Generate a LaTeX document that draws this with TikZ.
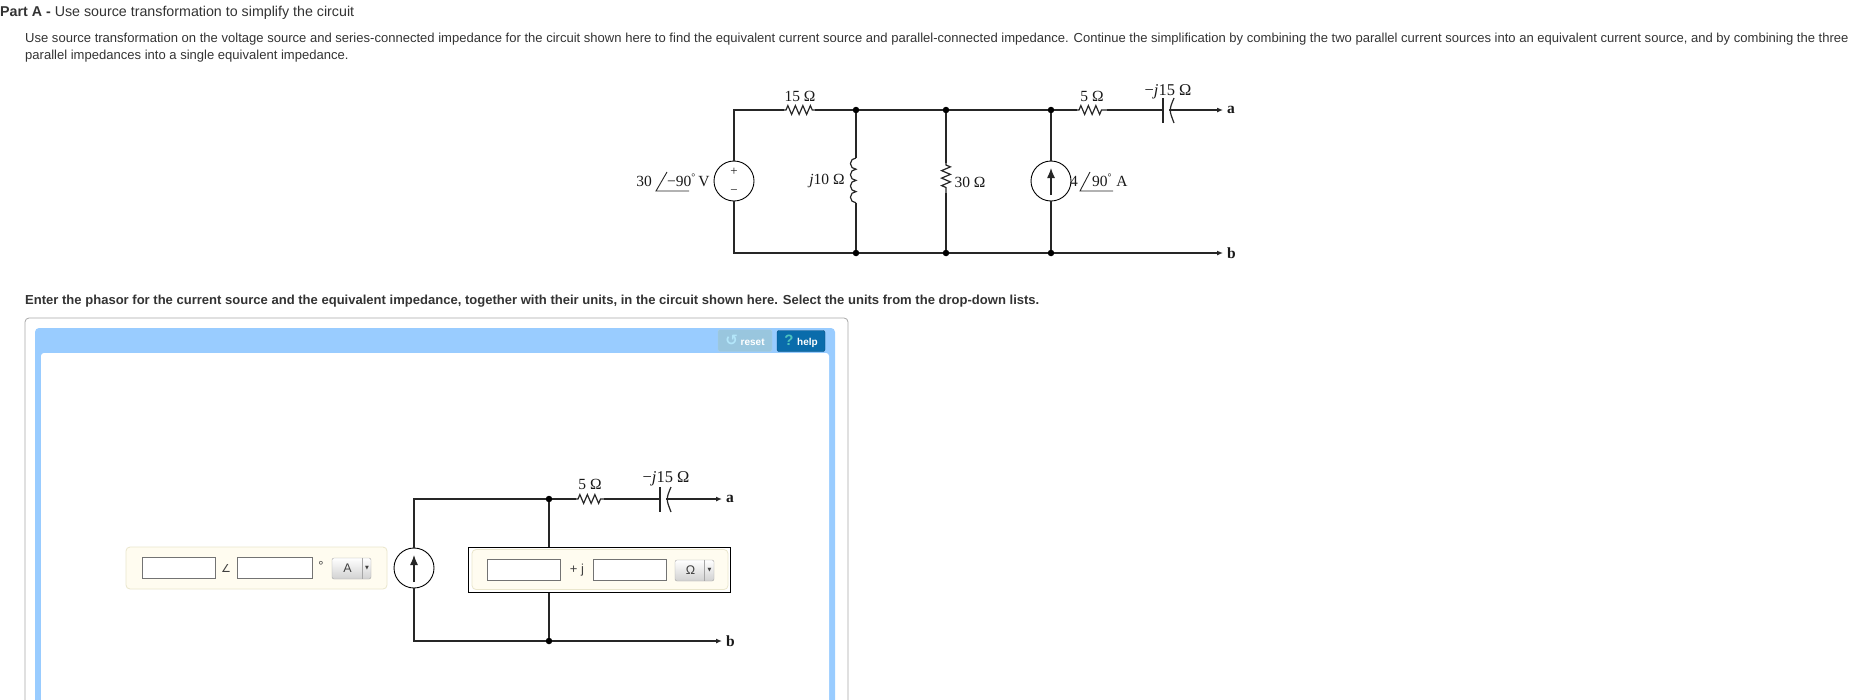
\documentclass[tikz,border=0pt]{standalone}
\usepackage{fontspec}
\setmainfont{Liberation Sans}
\newfontfamily\cktfont{Liberation Serif}
\newfontfamily\symfont{DejaVu Sans}
\usetikzlibrary{calc,arrows.meta,decorations.pathmorphing}
\definecolor{txtgray}{HTML}{333333}
\definecolor{panelblue}{HTML}{99CCFF}
\definecolor{creamfill}{HTML}{FFFCF0}
\definecolor{creamedge}{HTML}{EAE6CC}
\definecolor{resetblue}{HTML}{99C6DE}
\definecolor{helpblue}{HTML}{0A6CAB}
\tikzset{
  wire/.style={line width=1.2pt,black!85},
  lead/.style={wire,shorten >=4pt,-{Latex[length=6pt,width=5pt]}},
  dot/.style={circle,fill=black,inner sep=0pt,minimum size=6.5pt},
  source/.style={circle,draw=black,line width=.9pt,fill=white,inner sep=0pt,minimum size=40pt},
  resistor/.style={wire,decorate,decoration={zigzag,segment length=7.5pt,amplitude=4.4pt,pre length=2pt,post length=2pt}},
  cktlabel/.style={font=\cktfont\fontsize{15.5}{15.5}\selectfont,inner sep=0pt,black!90},
  pagetext/.style={anchor=base west,inner sep=0pt,text=txtgray,font=\fontsize{13.04}{15}\selectfont},
  infield/.style={draw=black!55,fill=white,line width=.8pt,inner sep=0pt,minimum width=73pt,minimum height=21pt},
  cream/.style={draw=creamedge,fill=creamfill,line width=.8pt,rounded corners=4pt,inner sep=0pt},
  dropbtn/.style={draw=black!35,rounded corners=2pt,top color=white,bottom color=black!18,inner sep=0pt,
    minimum width=39pt,minimum height=21pt,text=black!75,font=\fontsize{12.5}{12.5}\selectfont},
  tabbtn/.style={inner sep=0pt,rounded corners=2pt,font=\bfseries\fontsize{10}{10}\selectfont}
}
\begin{document}
\begin{tikzpicture}[x=1pt,y=-1pt]
	\useasboundingbox (0,0) rectangle (1857,699);
	% page text
	\node[pagetext,font=\fontsize{14.25}{15}\selectfont] (title) at (0,16) {\textbf{Part A -} Use source transformation to simplify the circuit};
	\node[pagetext] (intro1) at (25,42) {Use source transformation on the voltage source and series-connected impedance for the circuit shown here to find the equivalent current source and parallel-connected impedance. Continue the simplification by combining the two parallel current sources into an equivalent current source, and by combining the three};
	\node[pagetext] (intro2) at (25,59) {parallel impedances into a single equivalent impedance.};
	\node[pagetext,font=\bfseries\fontsize{13.04}{15}\selectfont] (ask) at (25,304) {Enter the phasor for the current source and the equivalent impedance, together with their units, in the circuit shown here. Select the units from the drop-down lists.};
	%
	% upper circuit
	\node[dot] (jt1) at (856,110) {};
	\node[dot] (jt2) at (946,110) {};
	\node[dot] (jt3) at (1051,110) {};
	\node[dot] (jb1) at (856,253) {};
	\node[dot] (jb2) at (946,253) {};
	\node[dot] (jb3) at (1051,253) {};
	\node[source] (vs) at (734,181) {};
	\node[source] (cs) at (1051,181) {};
	\coordinate (ctl) at (734,110);
	\coordinate (cbl) at (734,253);
	\coordinate (r1a) at (784,110);
	\coordinate (r1b) at (815,110);
	\coordinate (r2a) at (946,163);
	\coordinate (r2b) at (946,193);
	\coordinate (r3a) at (1077,110);
	\coordinate (r3b) at (1107,110);
	\coordinate (l1a) at (856,158);
	\coordinate (l1b) at (856,203);
	\coordinate (c1a) at (1163,110);
	\coordinate (c1u) at (1163,98);
	\coordinate (c1d) at (1163,123);
	\coordinate (c1t) at (1174,98);
	\coordinate (c1m) at (1169,110);
	\coordinate (c1e) at (1174,123);
	\node[cktlabel,anchor=west] (outa) at (1227,110) {\textbf{a}};
	\node[cktlabel,anchor=west] (outb) at (1227,253) {\textbf{b}};
	%
	\draw[wire] (vs) |- (ctl) -- (r1a);
	\draw[resistor] (r1a) -- (r1b);
	\draw[wire] (r1b) -- (jt1) -- (jt2) -- (jt3) -- (r3a);
	\draw[resistor] (r3a) -- (r3b);
	\draw[wire] (r3b) -- (c1a);
	\draw[wire,line width=1.6pt] (c1u) -- (c1d);
	\draw[wire] (c1t) .. controls (c1m) and (c1m) .. (c1e);
	\draw[lead] (c1m) -- (outa);
	\draw[wire] (vs) |- (cbl) -- (jb1) -- (jb2) -- (jb3);
	\draw[lead] (jb3) -- (outb);
	\draw[wire] (jt1) -- (l1a);
	\draw[wire] (l1a) arc[start angle=-90,end angle=-270,radius=5.6] arc[start angle=-90,end angle=-270,radius=5.6] arc[start angle=-90,end angle=-270,radius=5.6] arc[start angle=-90,end angle=-270,radius=5.6];
	\draw[wire] (l1b) -- (jb1);
	\draw[wire] (jt2) -- (r2a);
	\draw[resistor] (r2a) -- (r2b);
	\draw[wire] (r2b) -- (jb2);
	\draw[wire] (jt3) -- (cs);
	\draw[wire] (cs) -- (jb3);
	\coordinate (csd) at (1051,195);
	\coordinate (csu) at (1051,168);
	\draw[wire,-{Latex[length=10pt,width=8pt]}] (csd) -- (csu);
	%
	\node[cktlabel] (lbr1) at (800,96) {15 Ω};
	\node[cktlabel] (lbr3) at (1092,96) {5 Ω};
	\node[cktlabel,font=\cktfont\fontsize{16.5}{16.5}\selectfont] (lbc1) at (1168,92) {−\textit{j}15 Ω};
	\node[cktlabel] (lbl1) at (827,181) {\textit{j}10 Ω};
	\node[cktlabel] (lbr2) at (970,182) {30 Ω};
	\node[cktlabel] (vplus) at (734,172) {\fontsize{13}{13}\selectfont +};
	\node[cktlabel] (vminus) at (734,192) {\fontsize{13}{13}\selectfont −};
	\node[cktlabel,anchor=base] (lbv) at (644,186) {30};
	\node[cktlabel,anchor=base west] (lbv2) at (667,186) {−90\textsuperscript{\fontsize{10}{10}\selectfont\textdegree}};
	\node[cktlabel,anchor=base] (lbv3) at (704,186) {V};
	\coordinate (angv1) at (667,172);
	\coordinate (angv2) at (656,191);
	\coordinate (angv3) at (689,191);
	\draw[wire,line width=.9pt] (angv1) -- (angv2) -- (angv3);
	\node[cktlabel,anchor=base] (lbi) at (1074,186) {4};
	\node[cktlabel,anchor=base west] (lbi2) at (1092,186) {90\textsuperscript{\fontsize{10}{10}\selectfont\textdegree}};
	\node[cktlabel,anchor=base] (lbi3) at (1122,186) {A};
	\coordinate (angi1) at (1090,172);
	\coordinate (angi2) at (1080,191);
	\coordinate (angi3) at (1113,191);
	\draw[wire,line width=.9pt] (angi1) -- (angi2) -- (angi3);
	%
	% answer panel
	\coordinate (pan1) at (25,740);
	\coordinate (pan2) at (25,318);
	\coordinate (pan3) at (848,318);
	\coordinate (pan4) at (848,740);
	\draw[black!35,line width=.8pt,rounded corners=4pt] (pan1) -- (pan2) -- (pan3) -- (pan4);
	\fill[panelblue,rounded corners=4pt] (35,740) -- (35,328) -- (835,328) -- (835,740) -- cycle;
	\fill[white,rounded corners=3pt] (41,740) -- (41,353) -- (829,353) -- (829,740) -- cycle;
	\node[tabbtn,fill=resetblue,draw=resetblue!80!white,text=white,minimum width=54pt,minimum height=22pt] (resetbtn) at (745,340.5) {{\symfont\fontsize{15}{15}\selectfont\textcolor{cyan!30!white}{↺}} reset};
	\node[tabbtn,fill=helpblue,draw=helpblue!70!black,text=white,minimum width=48pt,minimum height=21pt] (helpbtn) at (801,341) {{\fontsize{15}{15}\selectfont\textcolor{cyan!60!green!70!white}{?}} help};
	%
	% lower circuit
	\node[dot] (jat) at (549,499) {};
	\node[dot] (jab) at (549,641) {};
	\node[source] (ceq) at (414,568) {};
	\coordinate (cet) at (414,499);
	\coordinate (ceb) at (414,641);
	\coordinate (r4a) at (576,499);
	\coordinate (r4b) at (604,499);
	\coordinate (c2a) at (660,499);
	\coordinate (c2u) at (660,487);
	\coordinate (c2d) at (660,512);
	\coordinate (c2t) at (671,487);
	\coordinate (c2m) at (666,499);
	\coordinate (c2e) at (671,512);
	\coordinate (ced) at (414,582);
	\coordinate (ceu) at (414,555);
	\node[cktlabel,anchor=west] (lowa) at (726,499) {\textbf{a}};
	\node[cktlabel,anchor=west] (lowb) at (726,641) {\textbf{b}};
	\draw[wire] (ceq) |- (cet) -- (jat) -- (r4a);
	\draw[resistor] (r4a) -- (r4b);
	\draw[wire] (r4b) -- (c2a);
	\draw[wire,line width=1.6pt] (c2u) -- (c2d);
	\draw[wire] (c2t) .. controls (c2m) and (c2m) .. (c2e);
	\draw[lead] (c2m) -- (lowa);
	\draw[wire] (ceq) |- (ceb) -- (jab);
	\draw[lead] (jab) -- (lowb);
	\draw[wire] (jat) -- (jab);
	\draw[wire,-{Latex[length=10pt,width=8pt]}] (ced) -- (ceu);
	\node[cktlabel] (lbr4) at (590,484) {5 Ω};
	\node[cktlabel,font=\cktfont\fontsize{16.5}{16.5}\selectfont] (lbc2) at (666,479) {−\textit{j}15 Ω};
	%
	% answer boxes
	\node[cream,minimum width=261pt,minimum height=42pt] (ansi) at (256.5,568) {};
	\node[infield] (magi) at (178.5,567.5) {};
	\node[infield,minimum width=75pt] (argi) at (274.5,567.5) {};
	\node[inner sep=0pt,text=black!75,font=\symfont\fontsize{11}{11}\selectfont] (angsym) at (226,568) {∠};
	\node[inner sep=0pt,text=black!75,font=\fontsize{13}{13}\selectfont] (degsym) at (321,566) {°};
	\node[dropbtn] (unita) at (351.5,568.5) {\hspace{-8pt}A};
	\draw[black!35] (unita.north) ++(10.5,0) -- ++(0,21);
	\node[inner sep=0pt,text=black!75,font=\symfont\fontsize{5}{5}\selectfont] (dropa) at (367,568.5) {▼};
	%
	\node[draw=black,line width=.8pt,fill=white,inner sep=0pt,minimum width=262pt,minimum height=45pt] (zbox) at (599,569.5) {};
	\node[cream,minimum width=256pt,minimum height=40pt] (ansz) at (600,569.5) {};
	\node[infield] (rez) at (524,569.5) {};
	\node[infield] (imz) at (630,569.5) {};
	\node[inner sep=0pt,text=black!75,font=\fontsize{13}{13}\selectfont] (plusj) at (577,570) {+ j};
	\node[dropbtn] (unitz) at (694.5,570.5) {\hspace{-8pt}Ω};
	\draw[black!35] (unitz.north) ++(10,0) -- ++(0,21);
	\node[inner sep=0pt,text=black!75,font=\symfont\fontsize{5}{5}\selectfont] (dropz) at (709.5,570.5) {▼};
\end{tikzpicture}
\end{document}
